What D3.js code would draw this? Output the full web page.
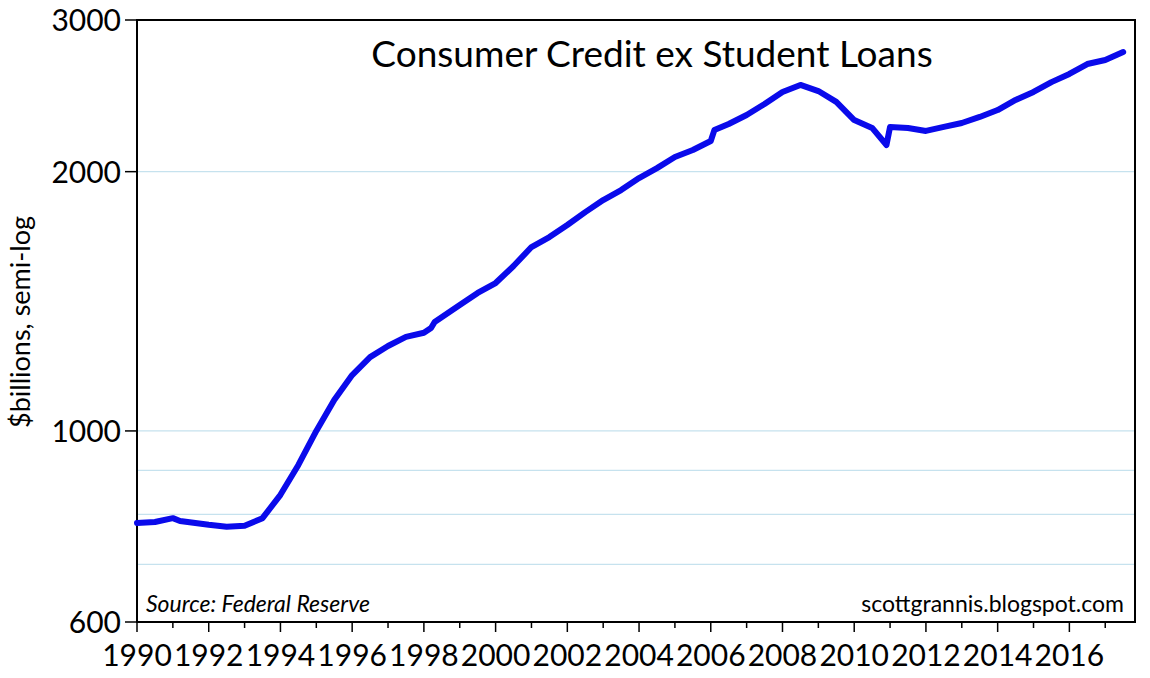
<!DOCTYPE html><html><head><meta charset="utf-8"><script src="https://cdn.jsdelivr.net/npm/d3@7"></script>
<style>body{margin:0;background:#fff}text{font-family:Lato,"Open Sans",sans-serif}</style></head><body><svg id="c" width="1150" height="678"></svg><script>
const years=[1990,1990.5,1991,1991.2,1992,1992.5,1993,1993.5,1994,1994.5,1995,1995.5,1996,1996.5,1997,1997.5,1998,1998.2,1998.3,1999,1999.5,2000,2000.5,2001,2001.5,2002,2002.5,2003,2003.5,2004,2004.5,2005,2005.5,2006,2006.1,2006.5,2007,2007.5,2008,2008.5,2009,2009.5,2010,2010.5,2010.9,2011.0,2011.5,2012,2012.5,2013,2013.5,2014,2014.5,2015,2015.5,2016,2016.5,2017,2017.5];
const credit=[782,784,792,786,778,774,776,792,843,913,1000,1086,1161,1218,1255,1286,1300,1317,1338,1400,1446,1485,1554,1635,1679,1734,1795,1854,1904,1966,2019,2080,2119,2171,2235,2272,2327,2397,2475,2522,2481,2410,2296,2248,2148,2254,2248,2230,2254,2278,2315,2358,2423,2475,2541,2597,2667,2696,2754];
const yTicks=[600,1000,2000,3000];
const yGrid=[700,800,900,1000,2000];
const xTicks=d3.range(1990,2017,2);
const svg=d3.select("#c");
const L=137,R=1135,T=20,B=622;
const x=d3.scaleLinear().domain([1990,2017.83]).range([L,R]);
const y=d3.scaleLog().domain([600,3000]).range([B,T]);
svg.selectAll(".g").data(yGrid).join("line").attr("x1",L).attr("x2",R).attr("y1",d=>y(d)).attr("y2",d=>y(d)).attr("stroke","#c6e2ee").attr("stroke-width",1.2);
svg.append("rect").attr("x",L).attr("y",T).attr("width",R-L).attr("height",B-T).attr("fill","none").attr("stroke","#000").attr("stroke-width",2);
svg.selectAll(".xm").data(d3.range(1990,2018)).join("line").attr("x1",d=>x(d)).attr("x2",d=>x(d)).attr("y1",B).attr("y2",d=>B+(d%2==0?10:6)).attr("stroke","#000").attr("stroke-width",1.5);
svg.selectAll(".xl").data(xTicks).join("text").attr("x",d=>x(d)).attr("y",666).attr("text-anchor","middle").attr("font-size",30).text(d=>d);
svg.selectAll(".yt").data(yTicks).join("line").attr("x1",L-12).attr("x2",L).attr("y1",d=>y(d)).attr("y2",d=>y(d)).attr("stroke","#000").attr("stroke-width",1.5);
svg.selectAll(".yl").data(yTicks).join("text").attr("x",L-16).attr("y",d=>y(d)+11).attr("text-anchor","end").attr("font-size",30).text(d=>d);
svg.append("text").attr("transform","translate(30,322) rotate(-90)").attr("text-anchor","middle").attr("font-size",27).text("$billions, semi-log");
svg.append("text").attr("x",652).attr("y",67).attr("text-anchor","middle").attr("font-size",37).text("Consumer Credit ex Student Loans");
svg.append("text").attr("x",146).attr("y",612).attr("font-size",23).attr("font-style","italic").text("Source: Federal Reserve");
svg.append("text").attr("x",1124).attr("y",612).attr("text-anchor","end").attr("font-size",23).text("scottgrannis.blogspot.com");
svg.append("path").datum(years.map((d,i)=>[d,credit[i]])).attr("fill","none").attr("stroke","#0a0aeb").attr("stroke-width",6).attr("stroke-linejoin","round").attr("stroke-linecap","round")
.attr("d",d3.line().x(d=>x(d[0])).y(d=>y(d[1])));
</script></body></html>
